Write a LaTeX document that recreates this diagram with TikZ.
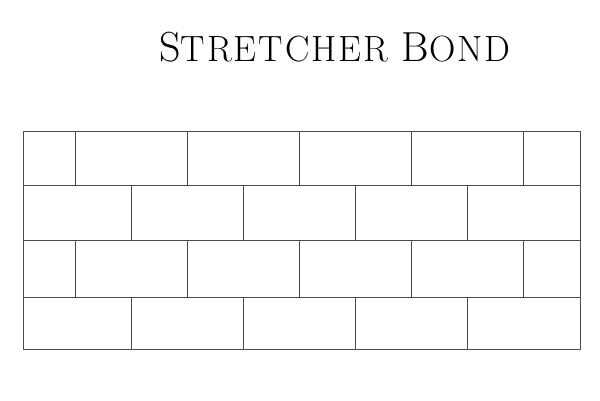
\documentclass[tikz,border=0pt]{standalone}
\usepackage{fontspec}
\setmainfont{Latin Modern Roman}[LetterSpace=5.5]
\usepackage{tikz}
\usetikzlibrary{positioning}
\tikzset{brick/.style={draw=black!70, line width=0.9pt}}
\newcommand{\capinitial}[1]{{\fontsize{42}{44}\selectfont #1}}
\begin{document}
\begin{tikzpicture}[x=1pt,y=-1pt]
\useasboundingbox (0,0) rectangle (600,400);

%title
\node[anchor=base, inner sep=0pt, font=\fontsize{36.5}{40}\selectfont] (title) at (335,61) {\capinitial{S}TRETCHER \capinitial{B}OND};

%wall outline
\draw[brick] (23,131.5) rectangle (580,349);

%bed joints
\foreach \y in {185,240.5,297.3}
  \draw[brick] (23,\y) -- (580,\y);

%head joints, courses 1 and 3
\foreach \x in {75,187,299,411,523} {
  \draw[brick] (\x,131.5) -- (\x,185);
  \draw[brick] (\x,240.5) -- (\x,297.3);
}

%head joints, courses 2 and 4
\foreach \x in {131,243,355,467} {
  \draw[brick] (\x,185) -- (\x,240.5);
  \draw[brick] (\x,297.3) -- (\x,349);
}
\end{tikzpicture}
\end{document}
